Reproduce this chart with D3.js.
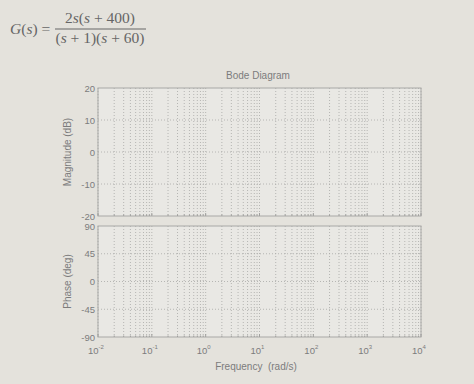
<!DOCTYPE html>
<html>
<meta charset="UTF-8">
<script src="https://d3js.org/d3.v7.min.js"></script>
<style>
    body {
        margin: 0;
        background: #e4e2dc;
        font-family: 'Liberation Sans', Arial, sans-serif;
    }

    text {
        fill: #7c7c7c;
        font-size: 9.5px;
    }

    text.formula {
        fill: #666;
        font-family: 'Liberation Serif', serif;
        font-size: 15.5px;
    }

    text.title {
        font-size: 10px;
    }

    text.label {
        font-size: 10px;
    }

    .frame {
        fill: #e9e8e4;
        stroke: #a8a8a6;
        stroke-width: 1;
    }

    .grid line {
        stroke: #a8a8a6;
        stroke-width: 0.8;
        stroke-dasharray: 1 2;
    }
</style>

<body>
    <svg width="474" height="384"></svg>

    <script>
        // axis values
        const decades = [-2, -1, 0, 1, 2, 3, 4];
        const magTicks = [-20, -10, 0, 10, 20];
        const phaseTicks = [-90, -45, 0, 45, 90];
        const minorSteps = [2, 3, 4, 5, 6, 7, 8, 9];

        const svg = d3.select("svg");
        const left = 98, right = 421;

        const x = d3.scaleLog()
            .domain([Math.pow(10, d3.min(decades)), Math.pow(10, d3.max(decades))])
            .range([left, right]);
        const yMag = d3.scaleLinear().domain([d3.min(magTicks), d3.max(magTicks)]).range([216, 88]);
        const yPh = d3.scaleLinear().domain([d3.min(phaseTicks), d3.max(phaseTicks)]).range([337, 226]);

        // all vertical grid positions: decades + minor 2..9
        const vgrid = [];
        decades.forEach(d => {
            vgrid.push(Math.pow(10, d));
            if (d < d3.max(decades)) minorSteps.forEach(m => vgrid.push(m * Math.pow(10, d)));
        });

        function panel(y, ticks) {
            const [y0, y1] = y.range();
            svg.append("rect").attr("class", "frame")
                .attr("x", left).attr("y", y1)
                .attr("width", right - left).attr("height", y0 - y1);

            const g = svg.append("g").attr("class", "grid");
            g.selectAll(".v").data(vgrid).enter().append("line")
                .attr("x1", d => x(d)).attr("x2", d => x(d))
                .attr("y1", y1).attr("y2", y0);
            g.selectAll(".h").data(ticks.slice(1, -1)).enter().append("line")
                .attr("x1", left).attr("x2", right)
                .attr("y1", d => y(d)).attr("y2", d => y(d));

            // small tick marks on the frame
            const t = svg.append("g").attr("stroke", "#a0a09e");
            t.selectAll(".tk").data(vgrid).enter().append("line")
                .attr("x1", d => x(d)).attr("x2", d => x(d))
                .attr("y1", y0).attr("y2", d => y0 - (decades.includes(Math.round(Math.log10(d) * 1e6) / 1e6) ? 3 : 1.5));

            svg.selectAll(null).data(ticks).enter().append("text")
                .attr("x", left - 3).attr("y", d => y(d) + 3.5)
                .attr("text-anchor", "end")
                .text(d => d);
        }

        panel(yMag, magTicks);
        panel(yPh, phaseTicks);

        // decade labels 10^n
        const xl = svg.append("g");
        decades.forEach(d => {
            const tx = xl.append("text")
                .attr("x", x(Math.pow(10, d)) - 2).attr("y", 354)
                .attr("text-anchor", "middle");
            tx.append("tspan").text("10");
            tx.append("tspan").attr("dy", -5).style("font-size", "6px").text(d);
        });

        svg.append("text").attr("class", "title")
            .attr("x", 258).attr("y", 79).attr("text-anchor", "middle")
            .text("Bode Diagram");

        svg.append("text").attr("class", "label")
            .attr("x", 256).attr("y", 370).attr("text-anchor", "middle")
            .attr("xml:space", "preserve")
            .text("Frequency  (rad/s)");

        svg.append("text").attr("class", "label")
            .attr("transform", `translate(71,${yMag(0)}) rotate(-90)`)
            .attr("text-anchor", "middle")
            .text("Magnitude (dB)");

        svg.append("text").attr("class", "label")
            .attr("transform", `translate(71,${yPh(0)}) rotate(-90)`)
            .attr("text-anchor", "middle")
            .text("Phase (deg)");

        // transfer function
        const f = svg.append("g");
        const lhs = f.append("text").attr("class", "formula").attr("x", 10).attr("y", 34);
        lhs.append("tspan").style("font-style", "italic").text("G");
        lhs.append("tspan").text("(");
        lhs.append("tspan").style("font-style", "italic").text("s");
        lhs.append("tspan").text(") =");

        const num = f.append("text").attr("class", "formula").attr("x", 100).attr("y", 23).attr("text-anchor", "middle");
        num.append("tspan").text("2");
        num.append("tspan").style("font-style", "italic").text("s");
        num.append("tspan").text("(");
        num.append("tspan").style("font-style", "italic").text("s");
        num.append("tspan").text(" + 400)");

        f.append("line").attr("x1", 55).attr("x2", 146).attr("y1", 29).attr("y2", 29)
            .attr("stroke", "#666").attr("stroke-width", 1);

        const den = f.append("text").attr("class", "formula").attr("x", 100).attr("y", 43).attr("text-anchor", "middle");
        den.append("tspan").text("(");
        den.append("tspan").style("font-style", "italic").text("s");
        den.append("tspan").text(" + 1)(");
        den.append("tspan").style("font-style", "italic").text("s");
        den.append("tspan").text(" + 60)");
    </script>
</body>
</html>
